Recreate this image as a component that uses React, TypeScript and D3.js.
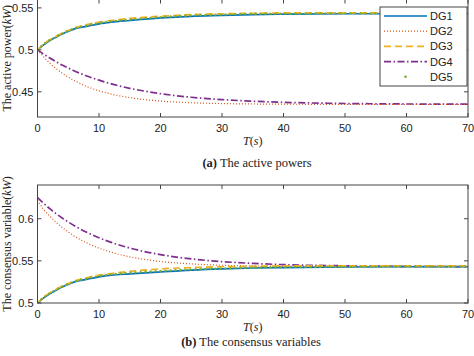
import React from "react";
import * as d3 from "d3";

const times = [0, 1, 2, 3, 4, 5, 6, 8, 10, 12, 15, 20, 25, 30, 35, 40, 50, 60, 70];

// (a) active powers
const pDG1 = [0.5, 0.506, 0.511, 0.515, 0.519, 0.522, 0.525, 0.528, 0.531, 0.533, 0.535, 0.538, 0.54, 0.541, 0.542, 0.5425, 0.543, 0.543, 0.543];
const pDG2 = [0.5, 0.4916, 0.4842, 0.4778, 0.4723, 0.4674, 0.4633, 0.4564, 0.4512, 0.4473, 0.4431, 0.439, 0.437, 0.436, 0.4355, 0.4353, 0.435, 0.435, 0.435];
const pDG3 = [0.5, 0.507, 0.512, 0.516, 0.52, 0.523, 0.526, 0.53, 0.533, 0.535, 0.5375, 0.54, 0.542, 0.543, 0.5435, 0.544, 0.544, 0.544, 0.544];
const pDG4 = [0.5, 0.4949, 0.4902, 0.486, 0.4819, 0.4783, 0.4749, 0.4689, 0.4639, 0.4595, 0.4542, 0.4478, 0.4435, 0.4407, 0.4388, 0.4375, 0.4361, 0.4355, 0.4353];
const pDG5 = [0.5, 0.5065, 0.5115, 0.5155, 0.5195, 0.5225, 0.5255, 0.529, 0.532, 0.534, 0.536, 0.539, 0.541, 0.542, 0.543, 0.543, 0.5435, 0.5435, 0.5435];

// (b) consensus variables
const cDG1 = [0.5, 0.506, 0.511, 0.515, 0.519, 0.522, 0.525, 0.528, 0.531, 0.533, 0.5345, 0.5368, 0.539, 0.5405, 0.5415, 0.542, 0.5427, 0.543, 0.543];
const cDG2 = [0.622, 0.611, 0.603, 0.5959, 0.5897, 0.5842, 0.5793, 0.5713, 0.5651, 0.5602, 0.5548, 0.5493, 0.5464, 0.5448, 0.544, 0.5435, 0.5432, 0.543, 0.543];
const cDG3 = [0.5, 0.507, 0.512, 0.516, 0.52, 0.523, 0.526, 0.53, 0.533, 0.535, 0.5375, 0.5405, 0.542, 0.543, 0.5435, 0.544, 0.544, 0.544, 0.544];
const cDG4 = [0.625, 0.6182, 0.6119, 0.6061, 0.6009, 0.5961, 0.5917, 0.5839, 0.5774, 0.5719, 0.5652, 0.5574, 0.5523, 0.5491, 0.547, 0.5455, 0.5441, 0.5435, 0.5432];
const cDG5 = [0.5, 0.5065, 0.5115, 0.5155, 0.5195, 0.5225, 0.5255, 0.529, 0.532, 0.534, 0.5358, 0.538, 0.5398, 0.541, 0.542, 0.5425, 0.543, 0.5433, 0.5433];

const xTicks = [0, 10, 20, 30, 40, 50, 60, 70];
const yTicksA = [0.45, 0.5, 0.55];
const yTicksB = [0.5, 0.55, 0.6];
const legendNames = ["DG1", "DG2", "DG3", "DG4", "DG5"];

const styles = [
  { color: "#0072BD", dash: "", cap: "butt", w: 1.7 },
  { color: "#D95319", dash: "1 2", cap: "butt", w: 1.2 },
  { color: "#EDB120", dash: "7 4", cap: "butt", w: 1.7 },
  { color: "#7E2F8E", dash: "7 2.5 1.5 2.5", cap: "butt", w: 1.7 },
  { color: "#77AC30", dash: "0 5", cap: "round", w: 2.4 },
];

const AX = "#444";
const sans = "'Liberation Sans', Arial, sans-serif";
const serif = "'Liberation Serif', 'Times New Roman', serif";

function Panel({ top, bottom, yDomain, yTicks, series, ylabel, legend }: any) {
  const x = d3.scaleLinear().domain([0, 70]).range([37.5, 468]);
  const y = d3.scaleLinear().domain(yDomain).range([bottom, top]);
  const line = d3
    .line<number>()
    .x((_, i) => x(times[i]))
    .y((d) => y(d))
    .curve(d3.curveMonotoneX);
  const midY = (top + bottom) / 2;
  return (
    <g>
      <defs>
        <clipPath id={"clip" + Math.round(top)}>
          <rect x={x(0)} y={top} width={x(70) - x(0)} height={bottom - top} />
        </clipPath>
      </defs>
      <g clipPath={`url(#clip${Math.round(top)})`}>
        {[3, 1, 0, 2, 4].map((k) => (
          <path
            key={k}
            d={line(series[k]) || ""}
            fill="none"
            stroke={styles[k].color}
            strokeWidth={styles[k].w}
            strokeDasharray={styles[k].dash}
            strokeLinecap={styles[k].cap as any}
          />
        ))}
      </g>
      <rect x={x(0)} y={top} width={x(70) - x(0)} height={bottom - top} fill="none" stroke={AX} strokeWidth={1} />
      {xTicks.map((t) => (
        <g key={"x" + t}>
          <line x1={x(t)} x2={x(t)} y1={bottom} y2={bottom - 4} stroke={AX} />
          <line x1={x(t)} x2={x(t)} y1={top} y2={top + 4} stroke={AX} />
          <text x={x(t)} y={bottom + 15} textAnchor="middle" fontFamily={sans} fontSize={11} fill="#222">
            {t}
          </text>
        </g>
      ))}
      {yTicks.map((t: number) => (
        <g key={"y" + t}>
          <line x1={x(0)} x2={x(0) + 4} y1={y(t)} y2={y(t)} stroke={AX} />
          <line x1={x(70)} x2={x(70) - 4} y1={y(t)} y2={y(t)} stroke={AX} />
          <text x={33.5} y={y(t) + 4} textAnchor="end" fontFamily={sans} fontSize={11} fill="#222">
            {String(t)}
          </text>
        </g>
      ))}
      <text x={x(35)} y={bottom + 28} textAnchor="middle" fontFamily={serif} fontSize={12} fill="#222">
        <tspan fontStyle="italic">T</tspan>(<tspan fontStyle="italic">s</tspan>)
      </text>
      <text
        transform={`translate(11,${midY}) rotate(-90)`}
        textAnchor="middle"
        fontFamily={serif}
        fontSize={12}
        fill="#222"
      >
        {ylabel}(<tspan fontStyle="italic">kW</tspan>)
      </text>
      {legend && (
        <g>
          <rect x={380} y={7} width={87} height={79} fill="#fff" stroke={AX} strokeWidth={1} />
          {legendNames.map((n, i) => {
            const ly = 16 + i * 15.2;
            return (
              <g key={n}>
                {i < 4 ? (
                  <line
                    x1={384}
                    x2={427}
                    y1={ly}
                    y2={ly}
                    stroke={styles[i].color}
                    strokeWidth={styles[i].w}
                    strokeDasharray={styles[i].dash}
                  />
                ) : (
                  <circle cx={405.5} cy={ly} r={1.3} fill={styles[i].color} />
                )}
                <text x={430} y={ly + 4} fontFamily={sans} fontSize={11} fill="#222">
                  {n}
                </text>
              </g>
            );
          })}
        </g>
      )}
    </g>
  );
}

export default function App() {
  return (
    <svg
      width={474}
      height={356}
      style={{ position: "absolute", left: 0, top: 0, background: "#fff" }}
    >
      <rect width={474} height={356} fill="#fff" />
      <Panel
        top={-0.5}
        bottom={117}
        yDomain={[0.42, 0.56]}
        yTicks={yTicksA}
        series={[pDG1, pDG2, pDG3, pDG4, pDG5]}
        ylabel="The active power"
        legend
      />
      <text x={257} y={167} textAnchor="middle" fontFamily={serif} fontSize={12.5} fill="#222">
        <tspan fontWeight="bold">(a)</tspan> The active powers
      </text>
      <Panel
        top={185}
        bottom={303}
        yDomain={[0.5, 0.64]}
        yTicks={yTicksB}
        series={[cDG1, cDG2, cDG3, cDG4, cDG5]}
        ylabel="The consensus variable"
      />
      <text x={251} y={346} textAnchor="middle" fontFamily={serif} fontSize={12.5} fill="#222">
        <tspan fontWeight="bold">(b)</tspan> The consensus variables
      </text>
    </svg>
  );
}
